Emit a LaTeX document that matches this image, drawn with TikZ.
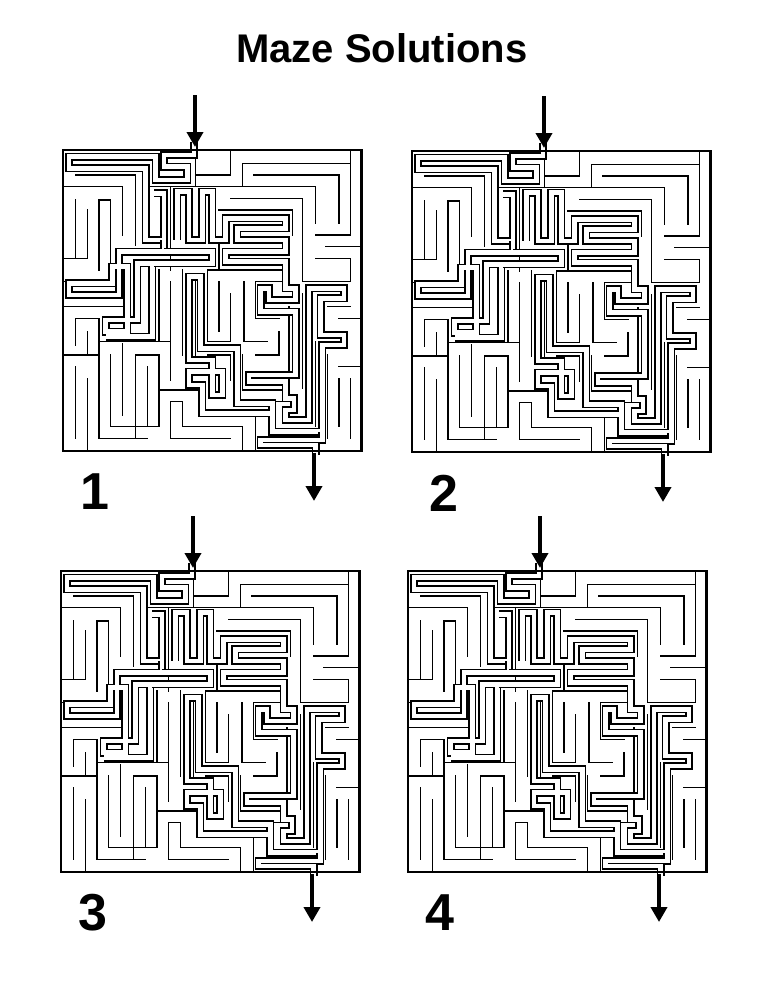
\documentclass[tikz,border=0pt]{standalone}
\usepackage{fontspec}
\setmainfont{Liberation Sans}
\usetikzlibrary{arrows.meta}
\tikzset{
  wall/.style={line width=1.4pt,line cap=rect},
  frame/.style={line width=2.8pt},
  sol/.style={double=white,double distance=4.6pt,line width=1.8pt,line join=miter},
  arr/.style={line width=4pt,-{Triangle[length=15pt,width=16pt]}},
  num/.style={font=\bfseries\fontsize{52}{52}\selectfont,inner sep=0pt}
}
\newcommand{\mazebody}{%
  \draw[wall] (22,135)--(200,135)--(200,280) (60,100)--(240,100)--(240,310)
   (60,175)--(60,350) (25,350)--(95,350)--(95,205) (130,175)--(165,175)--(165,420) (130,175)--(130,385)
   (25,420)--(165,420) (525,25)--(525,100)--(420,100) (420,25)--(420,135) (280,135)--(780,135)
   (560,135)--(560,65)--(885,65) (595,100)--(850,100)--(850,245) (885,25)--(885,280)--(780,280)
   (525,170)--(740,170)--(740,420) (780,135)--(780,245) (810,315)--(918,315) (780,350)--(885,350)--(885,420)--(740,420)
   (490,205)--(710,205)--(710,280) (345,135)--(345,385) (490,310)--(490,385) (455,385)--(700,385)
   (310,385)--(310,600) (345,420)--(345,715) (380,385)--(380,640) (490,420)--(490,570)
   (525,455)--(525,600) (565,420)--(565,600)--(635,600) (600,420)--(600,530)--(670,530)
   (670,570)--(670,640)--(600,640) (455,390)--(455,600)--(525,600)
   (22,495)--(200,495) (60,530)--(130,530) (60,530)--(60,610) (95,570)--(95,640) (22,640)--(130,640)
   (130,530)--(130,890) (130,600)--(345,600) (165,640)--(165,855) (200,605)--(200,820)
   (240,640)--(310,640)--(310,855) (240,640)--(240,890) (275,675)--(275,855) (60,675)--(60,890)
   (95,710)--(95,928) (165,855)--(310,855) (130,890)--(275,890)
   (310,745)--(450,745) (345,780)--(380,780) (345,780)--(345,890)--(525,890) (380,780)--(380,855)--(560,855)--(560,928)
   (600,820)--(600,928) (850,675)--(918,675) (885,710)--(885,890) (850,710)--(850,855)
   (815,640)--(815,890) (780,600)--(780,855) (850,530)--(918,530) (815,495)--(885,495)
   (740,455)--(740,740) (700,495)--(700,700) (635,780)--(700,780) (600,420)--(700,420)
   (420,420)--(420,640) (455,640)--(525,640)--(525,715) (560,640)--(560,745)--(700,745);
  \draw[sol] (415,0)--(415,40)--(325,40)--(325,75)--(395,75)--(395,115)--(300,115)--(300,45)--(40,45)--(40,80)--(270,80)--(270,295)--(325,295)--(325,155)--(295,155);
  \draw[sol] (365,295)--(365,150)--(400,150)--(400,295)--(440,295)--(440,150)--(470,150)--(470,295)--(510,295)--(510,230)--(690,230)--(690,260)--(545,260)--(545,295)--(690,295)--(690,330)--(510,330)--(510,360)--(690,360)--(690,440)--(720,440)--(720,475)--(640,475)--(640,440)--(615,440)--(615,510)--(720,510)--(720,700)--(580,700)--(580,720)--(690,720)--(690,770)--(715,770)--(715,805)--(690,805)--(690,835)--(760,835)--(760,440)--(865,440)--(865,470)--(795,470)--(795,580)--(865,580)--(865,610)--(800,610)--(800,870)--(650,870)--(650,815)--(440,815)--(440,730)--(400,730)--(400,690)--(500,690)--(500,760)--(470,760)--(470,655)--(400,655)--(400,405)--(435,405)--(435,620)--(545,620)--(545,785)--(650,785)--(650,815);
  \draw[sol] (800,870)--(800,895)--(615,895)--(615,910)--(780,910)--(780,940);
  \draw[sol] (325,295)--(325,330)--(190,330)--(190,460)--(40,460)--(40,425)--(170,425)--(170,375)--(215,375)--(215,570)--(150,570)--(150,535)--(245,535)--(245,365)--(290,365)--(290,585)--(150,585);
  \draw[sol] (325,330)--(470,330)--(470,365)--(295,365);
  \draw[frame] (22,25) rectangle (918,928);
}
\newcommand{\mazeat}[4]{%
  \begin{scope}[shift={(#1,#2)},scale=0.3333,shift={(-22,-25)}]\mazebody\end{scope}
  \draw[arr] (#1+132,95) ++(0,#2-150) coordinate (s#4) -- ++(0,52);
  \draw[arr] (#1+251,#2+303) coordinate (e#4) -- ++(0,48);
  \node[num] (n#4) at (#1+32,#2+342) {#3};
}
\begin{document}
\begin{tikzpicture}[x=1pt,y=-1pt]
\useasboundingbox (0,0) rectangle (765,990);
\fill[white] (0,0) rectangle (765,990);
\node[font=\bfseries\fontsize{40}{40}\selectfont] (title) at (382,48) {Maze Solutions};
\mazeat{63}{150}{1}{a}
\mazeat{412}{151}{2}{b}
\mazeat{61}{571}{3}{c}
\mazeat{408}{571}{4}{d}
\end{tikzpicture}
\end{document}
